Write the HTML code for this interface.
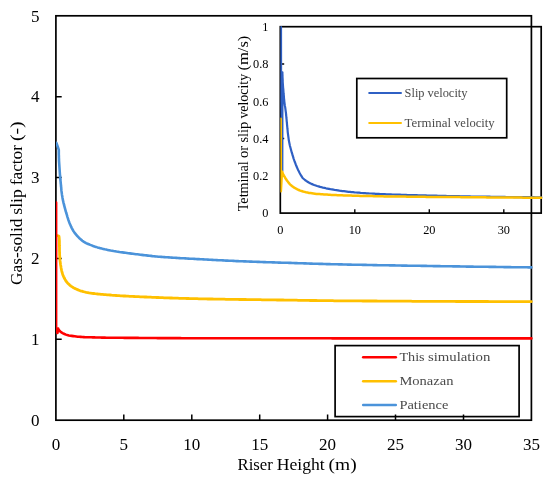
<!DOCTYPE html>
<html><head><meta charset="utf-8"><title>Gas-solid slip factor</title>
<style>
html,body{margin:0;padding:0;background:#fff;}
body{width:550px;height:480px;overflow:hidden;font-family:"Liberation Serif",serif;}
svg{display:block;font-family:"Liberation Serif",serif;}
</style></head><body>
<svg width="550" height="480" viewBox="0 0 550 480">
<rect width="550" height="480" fill="#fff"/>
<rect x="55.9" y="15.8" width="475.5" height="404.4" fill="none" stroke="#000" stroke-width="1.7"/>
<path d="M55.9,339.3h5.8 M55.9,258.4h5.8 M55.9,177.6h5.8 M55.9,96.7h5.8 M123.8,420.2v-5.8 M191.8,420.2v-5.8 M259.7,420.2v-5.8 M327.6,420.2v-5.8 M395.5,420.2v-5.8 M463.5,420.2v-5.8" stroke="#000" stroke-width="1.5" fill="none"/>
<defs><clipPath id="cm"><rect x="56.05" y="0" width="494" height="480"/></clipPath><clipPath id="ci"><rect x="280.4" y="0" width="269.6" height="480"/></clipPath></defs>
<g fill="none" stroke-linejoin="round" stroke-linecap="round" stroke-width="2.6" clip-path="url(#cm)">
<path d="M56.3,142.8 L57.5,146.0 L58.8,149.9 L58.8,151.4 L58.8,152.9 L58.8,154.4 L58.9,155.9 L58.9,157.5 L59.0,159.0 L59.0,160.5 L59.1,162.0 L59.2,163.5 L59.3,165.0 L59.4,166.5 L59.5,168.0 L59.6,169.5 L59.7,171.0 L59.8,172.5 L59.9,174.0 L60.0,175.5 L60.2,177.0 L60.3,178.5 L60.4,180.0 L60.6,181.5 L60.7,183.0 L60.9,184.5 L61.0,186.0 L61.2,187.5 L61.3,189.0 L61.4,190.4 L61.6,191.9 L61.8,193.4 L62.0,194.9 L62.3,196.4 L62.5,197.9 L62.8,199.4 L63.1,200.9 L63.4,202.3 L63.8,203.8 L64.1,205.2 L64.5,206.7 L64.9,208.2 L65.3,209.6 L65.7,211.1 L66.1,212.5 L66.6,214.0 L67.0,215.4 L67.4,216.8 L67.9,218.3 L68.3,219.7 L68.8,221.1 L69.3,222.5 L69.9,223.9 L70.5,225.3 L71.1,226.7 L71.8,228.1 L72.5,229.4 L73.2,230.7 L74.0,231.9 L74.9,233.2 L75.9,234.4 L76.8,235.5 L77.9,236.6 L78.9,237.7 L80.0,238.7 L81.2,239.7 L82.3,240.7 L83.6,241.6 L84.8,242.3 L86.1,243.1 L87.5,243.7 L88.9,244.3 L90.3,244.9 L91.7,245.4 L93.1,246.0 L94.5,246.5 L96.0,246.9 L97.4,247.4 L98.8,247.8 L100.3,248.2 L101.8,248.6 L103.2,248.9 L104.7,249.3 L106.2,249.6 L107.6,249.9 L109.1,250.2 L110.6,250.5 L112.1,250.7 L113.6,251.0 L115.0,251.2 L116.5,251.5 L118.0,251.7 L119.5,252.0 L121.0,252.2 L122.5,252.4 L124.0,252.6 L125.5,252.8 L126.9,253.0 L128.4,253.2 L129.9,253.4 L131.4,253.6 L132.9,253.8 L134.4,254.0 L135.9,254.2 L137.4,254.3 L138.9,254.5 L140.4,254.7 L141.9,254.9 L143.4,255.1 L144.9,255.3 L146.4,255.4 L147.9,255.6 L149.4,255.8 L150.9,255.9 L152.4,256.1 L153.9,256.2 L155.3,256.4 L156.8,256.5 L158.3,256.7 L159.8,256.8 L161.3,256.9 L162.8,257.0 L164.3,257.1 L165.8,257.2 L167.3,257.3 L168.8,257.4 L170.3,257.5 L171.8,257.6 L173.3,257.7 L174.9,257.8 L176.4,257.9 L177.9,258.0 L179.4,258.1 L180.9,258.2 L182.4,258.3 L183.9,258.3 L185.4,258.4 L186.9,258.5 L188.4,258.6 L189.9,258.7 L191.4,258.7 L192.9,258.8 L194.4,258.9 L195.9,259.0 L197.4,259.1 L198.9,259.1 L200.4,259.2 L201.9,259.3 L203.4,259.4 L204.9,259.5 L206.4,259.5 L207.9,259.6 L209.4,259.7 L210.9,259.8 L212.4,259.9 L213.9,260.0 L215.4,260.0 L216.9,260.1 L218.4,260.2 L219.9,260.3 L221.4,260.3 L223.0,260.4 L224.5,260.5 L226.0,260.6 L227.5,260.6 L229.0,260.7 L230.5,260.8 L232.0,260.8 L233.5,260.9 L235.0,261.0 L236.5,261.1 L238.0,261.1 L239.5,261.2 L241.0,261.2 L242.5,261.3 L244.0,261.4 L245.5,261.4 L247.0,261.5 L248.5,261.5 L250.0,261.6 L251.5,261.6 L253.0,261.7 L254.5,261.8 L256.0,261.8 L257.5,261.9 L259.0,261.9 L260.5,262.0 L262.1,262.0 L263.6,262.1 L265.1,262.1 L266.6,262.2 L268.1,262.2 L269.6,262.3 L271.1,262.3 L272.6,262.4 L274.1,262.4 L275.6,262.5 L277.1,262.5 L278.6,262.6 L280.1,262.6 L281.6,262.7 L283.1,262.7 L284.6,262.8 L286.1,262.8 L287.6,262.8 L289.1,262.9 L290.6,262.9 L292.1,263.0 L293.6,263.0 L295.1,263.1 L296.6,263.1 L298.2,263.2 L299.7,263.2 L301.2,263.3 L302.7,263.3 L304.2,263.4 L305.7,263.4 L307.2,263.5 L308.7,263.5 L310.2,263.6 L311.7,263.6 L313.2,263.7 L314.7,263.7 L316.2,263.8 L317.7,263.8 L319.2,263.9 L320.7,263.9 L322.2,263.9 L323.7,264.0 L325.2,264.0 L326.7,264.1 L328.2,264.1 L329.7,264.1 L331.3,264.2 L332.8,264.2 L334.3,264.3 L335.8,264.3 L337.3,264.3 L338.8,264.4 L340.3,264.4 L341.8,264.4 L343.3,264.5 L344.8,264.5 L346.3,264.5 L347.8,264.6 L349.3,264.6 L350.8,264.6 L352.3,264.7 L353.8,264.7 L355.3,264.7 L356.8,264.8 L358.3,264.8 L359.8,264.8 L361.3,264.8 L362.8,264.9 L364.4,264.9 L365.9,264.9 L367.4,265.0 L368.9,265.0 L370.4,265.0 L371.9,265.0 L373.4,265.1 L374.9,265.1 L376.4,265.1 L377.9,265.2 L379.4,265.2 L380.9,265.2 L382.4,265.2 L383.9,265.3 L385.4,265.3 L386.9,265.3 L388.4,265.3 L389.9,265.4 L391.4,265.4 L392.9,265.4 L394.5,265.4 L396.0,265.5 L397.5,265.5 L399.0,265.5 L400.5,265.5 L402.0,265.6 L403.5,265.6 L405.0,265.6 L406.5,265.6 L408.0,265.7 L409.5,265.7 L411.0,265.7 L412.5,265.7 L414.0,265.8 L415.5,265.8 L417.0,265.8 L418.5,265.8 L420.0,265.8 L421.5,265.9 L423.0,265.9 L424.5,265.9 L426.1,265.9 L427.6,266.0 L429.1,266.0 L430.6,266.0 L432.1,266.0 L433.6,266.1 L435.1,266.1 L436.6,266.1 L438.1,266.1 L439.6,266.1 L441.1,266.2 L442.6,266.2 L444.1,266.2 L445.6,266.2 L447.1,266.3 L448.6,266.3 L450.1,266.3 L451.6,266.3 L453.1,266.4 L454.6,266.4 L456.2,266.4 L457.7,266.4 L459.2,266.4 L460.7,266.5 L462.2,266.5 L463.7,266.5 L465.2,266.5 L466.7,266.6 L468.2,266.6 L469.7,266.6 L471.2,266.6 L472.7,266.6 L474.2,266.7 L475.7,266.7 L477.2,266.7 L478.7,266.7 L480.2,266.7 L481.7,266.8 L483.2,266.8 L484.7,266.8 L486.3,266.8 L487.8,266.8 L489.3,266.9 L490.8,266.9 L492.3,266.9 L493.8,266.9 L495.3,266.9 L496.8,267.0 L498.3,267.0 L499.8,267.0 L501.3,267.0 L502.8,267.0 L504.3,267.1 L505.8,267.1 L507.3,267.1 L508.8,267.1 L510.3,267.1 L511.8,267.2 L513.3,267.2 L514.8,267.2 L516.4,267.2 L517.9,267.2 L519.4,267.3 L520.9,267.3 L522.4,267.3 L523.9,267.3 L525.4,267.3 L526.9,267.3 L528.4,267.4 L529.9,267.4 L531.4,267.4" stroke="#4b93da"/>
<path d="M57.8,235.6 L59.0,236.3 L59.1,237.2 L59.2,238.4 L59.3,239.7 L59.4,241.1 L59.4,242.6 L59.4,244.2 L59.4,245.9 L59.5,247.6 L59.5,249.3 L59.5,251.0 L59.6,252.7 L59.6,254.4 L59.7,255.9 L59.8,257.4 L59.9,258.9 L60.0,260.4 L60.2,261.9 L60.4,263.4 L60.6,264.9 L60.9,266.4 L61.1,267.9 L61.4,269.4 L61.7,270.8 L62.1,272.3 L62.5,273.7 L63.0,275.2 L63.6,276.6 L64.3,278.0 L65.0,279.4 L65.7,280.6 L66.5,281.8 L67.5,282.9 L68.6,284.0 L69.7,285.1 L71.0,286.1 L72.2,286.9 L73.5,287.7 L74.7,288.4 L76.1,289.0 L77.5,289.6 L78.9,290.2 L80.3,290.8 L81.8,291.2 L83.3,291.7 L84.7,292.0 L86.2,292.4 L87.6,292.6 L89.1,292.9 L90.6,293.1 L92.1,293.3 L93.6,293.5 L95.1,293.7 L96.6,293.8 L98.1,294.0 L99.6,294.1 L101.1,294.3 L102.6,294.4 L104.1,294.6 L105.6,294.7 L107.1,294.8 L108.6,294.9 L110.1,295.0 L111.6,295.2 L113.1,295.3 L114.6,295.4 L116.1,295.5 L117.6,295.6 L119.1,295.7 L120.6,295.8 L122.1,295.9 L123.6,296.0 L125.1,296.0 L126.6,296.1 L128.1,296.2 L129.6,296.3 L131.1,296.4 L132.6,296.4 L134.1,296.5 L135.6,296.6 L137.2,296.6 L138.7,296.7 L140.2,296.8 L141.7,296.8 L143.2,296.9 L144.7,297.0 L146.2,297.0 L147.7,297.1 L149.2,297.2 L150.7,297.2 L152.2,297.3 L153.7,297.4 L155.2,297.4 L156.7,297.5 L158.2,297.5 L159.7,297.6 L161.2,297.6 L162.7,297.7 L164.2,297.8 L165.7,297.8 L167.2,297.9 L168.7,297.9 L170.2,298.0 L171.7,298.0 L173.2,298.1 L174.7,298.1 L176.3,298.2 L177.8,298.2 L179.3,298.3 L180.8,298.3 L182.3,298.4 L183.8,298.4 L185.3,298.4 L186.8,298.5 L188.3,298.5 L189.8,298.6 L191.3,298.6 L192.8,298.6 L194.3,298.7 L195.8,298.7 L197.3,298.7 L198.8,298.8 L200.3,298.8 L201.8,298.8 L203.3,298.9 L204.8,298.9 L206.3,298.9 L207.8,299.0 L209.4,299.0 L210.9,299.0 L212.4,299.0 L213.9,299.1 L215.4,299.1 L216.9,299.1 L218.4,299.1 L219.9,299.2 L221.4,299.2 L222.9,299.2 L224.4,299.2 L225.9,299.3 L227.4,299.3 L228.9,299.3 L230.4,299.3 L231.9,299.4 L233.4,299.4 L234.9,299.4 L236.4,299.4 L237.9,299.4 L239.4,299.5 L241.0,299.5 L242.5,299.5 L244.0,299.5 L245.5,299.5 L247.0,299.6 L248.5,299.6 L250.0,299.6 L251.5,299.6 L253.0,299.6 L254.5,299.7 L256.0,299.7 L257.5,299.7 L259.0,299.7 L260.5,299.7 L262.0,299.8 L263.5,299.8 L265.0,299.8 L266.5,299.8 L268.0,299.8 L269.5,299.9 L271.1,299.9 L272.6,299.9 L274.1,299.9 L275.6,299.9 L277.1,300.0 L278.6,300.0 L280.1,300.0 L281.6,300.0 L283.1,300.0 L284.6,300.1 L286.1,300.1 L287.6,300.1 L289.1,300.1 L290.6,300.2 L292.1,300.2 L293.6,300.2 L295.1,300.2 L296.6,300.2 L298.1,300.3 L299.6,300.3 L301.1,300.3 L302.7,300.3 L304.2,300.4 L305.7,300.4 L307.2,300.4 L308.7,300.4 L310.2,300.5 L311.7,300.5 L313.2,300.5 L314.7,300.5 L316.2,300.5 L317.7,300.6 L319.2,300.6 L320.7,300.6 L322.2,300.6 L323.7,300.6 L325.2,300.7 L326.7,300.7 L328.2,300.7 L329.7,300.7 L331.2,300.7 L332.7,300.7 L334.3,300.8 L335.8,300.8 L337.3,300.8 L338.8,300.8 L340.3,300.8 L341.8,300.8 L343.3,300.8 L344.8,300.8 L346.3,300.8 L347.8,300.9 L349.3,300.9 L350.8,300.9 L352.3,300.9 L353.8,300.9 L355.3,300.9 L356.8,300.9 L358.3,300.9 L359.8,300.9 L361.3,300.9 L362.8,301.0 L364.4,301.0 L365.9,301.0 L367.4,301.0 L368.9,301.0 L370.4,301.0 L371.9,301.0 L373.4,301.0 L374.9,301.0 L376.4,301.0 L377.9,301.1 L379.4,301.1 L380.9,301.1 L382.4,301.1 L383.9,301.1 L385.4,301.1 L386.9,301.1 L388.4,301.1 L389.9,301.1 L391.4,301.1 L392.9,301.1 L394.4,301.2 L396.0,301.2 L397.5,301.2 L399.0,301.2 L400.5,301.2 L402.0,301.2 L403.5,301.2 L405.0,301.2 L406.5,301.2 L408.0,301.2 L409.5,301.2 L411.0,301.2 L412.5,301.3 L414.0,301.3 L415.5,301.3 L417.0,301.3 L418.5,301.3 L420.0,301.3 L421.5,301.3 L423.0,301.3 L424.5,301.3 L426.1,301.3 L427.6,301.3 L429.1,301.3 L430.6,301.3 L432.1,301.4 L433.6,301.4 L435.1,301.4 L436.6,301.4 L438.1,301.4 L439.6,301.4 L441.1,301.4 L442.6,301.4 L444.1,301.4 L445.6,301.4 L447.1,301.4 L448.6,301.4 L450.1,301.4 L451.6,301.4 L453.1,301.4 L454.6,301.4 L456.2,301.5 L457.7,301.5 L459.2,301.5 L460.7,301.5 L462.2,301.5 L463.7,301.5 L465.2,301.5 L466.7,301.5 L468.2,301.5 L469.7,301.5 L471.2,301.5 L472.7,301.5 L474.2,301.5 L475.7,301.5 L477.2,301.5 L478.7,301.5 L480.2,301.5 L481.7,301.5 L483.2,301.5 L484.7,301.5 L486.2,301.5 L487.8,301.5 L489.3,301.6 L490.8,301.6 L492.3,301.6 L493.8,301.6 L495.3,301.6 L496.8,301.6 L498.3,301.6 L499.8,301.6 L501.3,301.6 L502.8,301.6 L504.3,301.6 L505.8,301.6 L507.3,301.6 L508.8,301.6 L510.3,301.6 L511.8,301.6 L513.3,301.6 L514.8,301.6 L516.3,301.6 L517.9,301.6 L519.4,301.6 L520.9,301.6 L522.4,301.6 L523.9,301.6 L525.4,301.6 L526.9,301.6 L528.4,301.6 L529.9,301.6 L531.4,301.6" stroke="#ffc000" stroke-width="2.8"/>
<path d="M56.1,202.6 L56.1,327 L57.4,333 L58.2,328.5 L58.5,329.5 L59.5,330.7 L60.6,331.7 L61.8,332.6 L63.1,333.3 L64.5,334.0 L65.9,334.6 L67.3,335.1 L68.8,335.5 L70.2,335.7 L71.7,335.9 L73.2,336.1 L74.7,336.3 L76.2,336.5 L77.7,336.7 L79.2,336.8 L80.7,336.9 L82.2,337.0 L83.8,337.1 L85.3,337.2 L86.8,337.2 L88.3,337.3 L89.8,337.3 L91.3,337.3 L92.8,337.4 L94.3,337.4 L95.8,337.5 L97.3,337.5 L98.8,337.5 L100.3,337.5 L101.8,337.6 L103.3,337.6 L104.8,337.6 L106.4,337.7 L107.9,337.7 L109.4,337.7 L110.9,337.7 L112.4,337.7 L113.9,337.8 L115.4,337.8 L116.9,337.8 L118.4,337.8 L119.9,337.8 L121.4,337.8 L122.9,337.8 L124.5,337.9 L126.0,337.9 L127.5,337.9 L129.0,337.9 L130.5,337.9 L132.0,337.9 L133.5,337.9 L135.0,337.9 L136.5,337.9 L138.0,337.9 L139.5,338.0 L141.0,338.0 L142.5,338.0 L144.0,338.0 L145.6,338.0 L147.1,338.0 L148.6,338.0 L150.1,338.0 L151.6,338.0 L153.1,338.0 L154.6,338.0 L156.1,338.0 L157.6,338.1 L159.1,338.1 L160.6,338.1 L162.1,338.1 L163.6,338.1 L165.1,338.1 L166.7,338.1 L168.2,338.1 L169.7,338.1 L171.2,338.1 L172.7,338.1 L174.2,338.1 L175.7,338.1 L177.2,338.1 L178.7,338.1 L180.2,338.1 L181.7,338.2 L183.2,338.2 L184.7,338.2 L186.3,338.2 L187.8,338.2 L189.3,338.2 L190.8,338.2 L192.3,338.2 L193.8,338.2 L195.3,338.2 L196.8,338.2 L198.3,338.2 L199.8,338.2 L201.3,338.2 L202.8,338.2 L204.3,338.2 L205.8,338.2 L207.4,338.2 L208.9,338.2 L210.4,338.2 L211.9,338.2 L213.4,338.2 L214.9,338.2 L216.4,338.3 L217.9,338.3 L219.4,338.3 L220.9,338.3 L222.4,338.3 L223.9,338.3 L225.4,338.3 L226.9,338.3 L228.5,338.3 L230.0,338.3 L231.5,338.3 L233.0,338.3 L234.5,338.3 L236.0,338.3 L237.5,338.3 L239.0,338.3 L240.5,338.3 L242.0,338.3 L243.5,338.3 L245.0,338.3 L246.5,338.3 L248.0,338.3 L249.6,338.3 L251.1,338.3 L252.6,338.3 L254.1,338.3 L255.6,338.3 L257.1,338.3 L258.6,338.3 L260.1,338.3 L261.6,338.3 L263.1,338.3 L264.6,338.3 L266.1,338.3 L267.6,338.3 L269.1,338.3 L270.7,338.3 L272.2,338.3 L273.7,338.3 L275.2,338.3 L276.7,338.3 L278.2,338.3 L279.7,338.3 L281.2,338.3 L282.7,338.3 L284.2,338.3 L285.7,338.3 L287.2,338.3 L288.7,338.3 L290.2,338.3 L291.8,338.3 L293.3,338.3 L294.8,338.3 L296.3,338.3 L297.8,338.3 L299.3,338.3 L300.8,338.3 L302.3,338.3 L303.8,338.3 L305.3,338.3 L306.8,338.3 L308.3,338.3 L309.8,338.3 L311.3,338.3 L312.9,338.3 L314.4,338.3 L315.9,338.3 L317.4,338.3 L318.9,338.3 L320.4,338.3 L321.9,338.3 L323.4,338.3 L324.9,338.3 L326.4,338.3 L327.9,338.3 L329.4,338.3 L330.9,338.3 L332.4,338.4 L334.0,338.4 L335.5,338.4 L337.0,338.4 L338.5,338.4 L340.0,338.4 L341.5,338.4 L343.0,338.4 L344.5,338.4 L346.0,338.4 L347.5,338.4 L349.0,338.4 L350.5,338.4 L352.0,338.4 L353.6,338.4 L355.1,338.4 L356.6,338.4 L358.1,338.4 L359.6,338.4 L361.1,338.4 L362.6,338.4 L364.1,338.4 L365.6,338.4 L367.1,338.4 L368.6,338.4 L370.1,338.4 L371.6,338.4 L373.1,338.4 L374.7,338.4 L376.2,338.4 L377.7,338.4 L379.2,338.4 L380.7,338.4 L382.2,338.4 L383.7,338.4 L385.2,338.4 L386.7,338.4 L388.2,338.4 L389.7,338.4 L391.2,338.4 L392.7,338.4 L394.2,338.4 L395.8,338.4 L397.3,338.4 L398.8,338.4 L400.3,338.4 L401.8,338.4 L403.3,338.4 L404.8,338.4 L406.3,338.4 L407.8,338.4 L409.3,338.4 L410.8,338.4 L412.3,338.4 L413.8,338.4 L415.3,338.4 L416.9,338.4 L418.4,338.4 L419.9,338.4 L421.4,338.4 L422.9,338.4 L424.4,338.4 L425.9,338.4 L427.4,338.4 L428.9,338.4 L430.4,338.4 L431.9,338.4 L433.4,338.4 L434.9,338.4 L436.4,338.4 L438.0,338.4 L439.5,338.4 L441.0,338.4 L442.5,338.4 L444.0,338.4 L445.5,338.4 L447.0,338.4 L448.5,338.4 L450.0,338.4 L451.5,338.4 L453.0,338.4 L454.5,338.4 L456.0,338.4 L457.5,338.4 L459.1,338.4 L460.6,338.4 L462.1,338.4 L463.6,338.4 L465.1,338.4 L466.6,338.4 L468.1,338.4 L469.6,338.4 L471.1,338.4 L472.6,338.4 L474.1,338.4 L475.6,338.4 L477.1,338.4 L478.6,338.4 L480.2,338.4 L481.7,338.4 L483.2,338.4 L484.7,338.4 L486.2,338.4 L487.7,338.4 L489.2,338.4 L490.7,338.4 L492.2,338.4 L493.7,338.4 L495.2,338.4 L496.7,338.4 L498.2,338.4 L499.7,338.4 L501.3,338.4 L502.8,338.4 L504.3,338.4 L505.8,338.4 L507.3,338.4 L508.8,338.4 L510.3,338.4 L511.8,338.4 L513.3,338.4 L514.8,338.4 L516.3,338.4 L517.8,338.4 L519.3,338.4 L520.8,338.4 L522.4,338.4 L523.9,338.4 L525.4,338.4 L526.9,338.4 L528.4,338.4 L529.9,338.4 L531.4,338.4" stroke="#ff0000"/>
</g>
<rect x="335.1" y="345.6" width="184" height="71" fill="none" stroke="#000" stroke-width="1.7"/>
<g stroke-width="2.5" stroke-linecap="round">
<path d="M363.2,357.3H395.8" stroke="#ff0000"/><path d="M363.2,381.2H395.8" stroke="#ffc000"/><path d="M363.2,405.1H395.8" stroke="#4b93da"/></g>
<g font-size="13.4" fill="#4a4a4a">
<text y="360.9"><tspan x="399.4" textLength="25.2" lengthAdjust="spacingAndGlyphs">This</tspan> <tspan x="427.9" textLength="62.5" lengthAdjust="spacingAndGlyphs">simulation</tspan></text>
<text x="399.4" y="384.8" textLength="54" lengthAdjust="spacingAndGlyphs">Monazan</text>
<text x="399.4" y="408.7" textLength="49" lengthAdjust="spacingAndGlyphs">Patience</text>
</g>
<g font-size="17" fill="#000">
<text x="39.4" y="425.9" text-anchor="end">0</text>
<text x="39.4" y="345.0" text-anchor="end">1</text>
<text x="39.4" y="264.1" text-anchor="end">2</text>
<text x="39.4" y="183.3" text-anchor="end">3</text>
<text x="39.4" y="102.4" text-anchor="end">4</text>
<text x="39.4" y="21.5" text-anchor="end">5</text>
<text x="55.9" y="449.7" text-anchor="middle">0</text>
<text x="123.8" y="449.7" text-anchor="middle">5</text>
<text x="191.8" y="449.7" text-anchor="middle">10</text>
<text x="259.7" y="449.7" text-anchor="middle">15</text>
<text x="327.6" y="449.7" text-anchor="middle">20</text>
<text x="395.5" y="449.7" text-anchor="middle">25</text>
<text x="463.5" y="449.7" text-anchor="middle">30</text>
<text x="531.4" y="449.7" text-anchor="middle">35</text>
</g>
<text y="470.1" font-size="17"><tspan x="237.5" textLength="35.3" lengthAdjust="spacingAndGlyphs">Riser</tspan> <tspan x="276.7" textLength="48.0" lengthAdjust="spacingAndGlyphs">Height</tspan> <tspan x="328.6" textLength="28.1" lengthAdjust="spacingAndGlyphs">(m)</tspan></text>
<text transform="translate(22,285.1) rotate(-90)" font-size="17"><tspan x="0.0" textLength="66.5" lengthAdjust="spacingAndGlyphs">Gas-solid</tspan> <tspan x="70.4" textLength="25.5" lengthAdjust="spacingAndGlyphs">slip</tspan> <tspan x="99.9" textLength="40.1" lengthAdjust="spacingAndGlyphs">factor</tspan> <tspan x="144.0" textLength="19.8" lengthAdjust="spacingAndGlyphs">(-)</tspan></text>
<rect x="280.3" y="26.7" width="260.9" height="186.4" fill="none" stroke="#000" stroke-width="1.7"/>
<path d="M280.3,175.8h3.9 M280.3,138.5h3.9 M280.3,101.3h3.9 M280.3,64.0h3.9 M354.8,213.1v-3.9 M429.3,213.1v-3.9 M503.8,213.1v-3.9" stroke="#000" stroke-width="1.4" fill="none"/>
<g fill="none" stroke-linejoin="round" stroke-linecap="round" stroke-width="2.2" clip-path="url(#ci)">
<path d="M281.0,27.2 L281.1,100 L282.3,171 L282.4,72.3 L282.4,72.3 L282.4,73.8 L282.5,75.4 L282.5,76.9 L282.6,78.4 L282.7,80.0 L282.7,81.5 L282.8,83.0 L282.9,84.5 L283.0,86.1 L283.1,87.6 L283.3,89.1 L283.4,90.7 L283.5,92.2 L283.6,93.7 L283.8,95.2 L283.9,96.7 L284.0,98.3 L284.2,99.8 L284.3,101.3 L284.5,102.8 L284.7,104.3 L284.9,105.9 L285.2,107.4 L285.4,108.9 L285.6,110.4 L285.8,111.9 L286.0,113.4 L286.1,115.0 L286.3,116.5 L286.4,118.0 L286.6,119.5 L286.7,121.1 L286.9,122.6 L287.0,124.1 L287.1,125.7 L287.3,127.2 L287.4,128.7 L287.6,130.2 L287.7,131.8 L287.9,133.3 L288.1,134.8 L288.3,136.3 L288.5,137.8 L288.7,139.3 L288.9,140.8 L289.2,142.3 L289.5,143.8 L289.8,145.3 L290.2,146.8 L290.6,148.3 L291.0,149.8 L291.4,151.3 L291.8,152.7 L292.3,154.2 L292.7,155.7 L293.2,157.1 L293.6,158.6 L294.1,160.0 L294.6,161.5 L295.2,162.9 L295.7,164.4 L296.3,165.8 L296.9,167.2 L297.5,168.6 L298.1,170.0 L298.8,171.3 L299.5,172.7 L300.2,174.0 L301.0,175.4 L301.8,176.7 L302.6,178.0 L303.8,179.0 L305.0,180.0 L306.2,180.9 L307.5,181.7 L308.8,182.5 L310.1,183.2 L311.4,183.9 L312.8,184.4 L314.2,185.0 L315.7,185.5 L317.1,186.0 L318.6,186.4 L320.1,186.9 L321.5,187.2 L323.0,187.6 L324.5,187.9 L326.0,188.3 L327.4,188.6 L328.9,188.9 L330.4,189.2 L331.9,189.4 L333.4,189.7 L334.9,190.0 L336.4,190.2 L337.9,190.4 L339.4,190.7 L341.0,190.9 L342.5,191.1 L344.0,191.2 L345.5,191.4 L347.0,191.6 L348.5,191.8 L350.0,191.9 L351.5,192.1 L353.0,192.2 L354.5,192.4 L356.0,192.5 L357.6,192.6 L359.1,192.7 L360.6,192.9 L362.1,193.0 L363.6,193.1 L365.1,193.2 L366.6,193.3 L368.2,193.4 L369.7,193.5 L371.2,193.5 L372.7,193.6 L374.2,193.7 L375.7,193.8 L377.3,193.9 L378.8,193.9 L380.3,194.0 L381.8,194.1 L383.3,194.1 L384.8,194.2 L386.4,194.3 L387.9,194.3 L389.4,194.4 L390.9,194.4 L392.4,194.5 L393.9,194.5 L395.5,194.6 L397.0,194.6 L398.5,194.7 L400.0,194.7 L401.5,194.8 L403.1,194.8 L404.6,194.9 L406.1,194.9 L407.6,195.0 L409.1,195.0 L410.6,195.1 L412.2,195.1 L413.7,195.1 L415.2,195.2 L416.7,195.2 L418.2,195.3 L419.7,195.3 L421.3,195.3 L422.8,195.4 L424.3,195.4 L425.8,195.4 L427.3,195.5 L428.9,195.5 L430.4,195.6 L431.9,195.6 L433.4,195.6 L434.9,195.7 L436.4,195.7 L438.0,195.8 L439.5,195.8 L441.0,195.8 L442.5,195.9 L444.0,195.9 L445.6,195.9 L447.1,196.0 L448.6,196.0 L450.1,196.0 L451.6,196.1 L453.1,196.1 L454.7,196.1 L456.2,196.2 L457.7,196.2 L459.2,196.2 L460.7,196.3 L462.3,196.3 L463.8,196.3 L465.3,196.3 L466.8,196.4 L468.3,196.4 L469.8,196.4 L471.4,196.5 L472.9,196.5 L474.4,196.5 L475.9,196.5 L477.4,196.6 L479.0,196.6 L480.5,196.6 L482.0,196.6 L483.5,196.7 L485.0,196.7 L486.5,196.7 L488.1,196.7 L489.6,196.7 L491.1,196.8 L492.6,196.8 L494.1,196.8 L495.7,196.8 L497.2,196.8 L498.7,196.9 L500.2,196.9 L501.7,196.9 L503.2,196.9 L504.8,196.9 L506.3,197.0 L507.8,197.0 L509.3,197.0 L510.8,197.0 L512.4,197.0 L513.9,197.1 L515.4,197.1 L516.9,197.1 L518.4,197.1 L519.9,197.1 L521.5,197.1 L523.0,197.2 L524.5,197.2 L526.0,197.2 L527.5,197.2 L529.1,197.2 L530.6,197.2 L532.1,197.2 L533.6,197.2 L535.1,197.3 L536.6,197.3 L538.2,197.3 L539.7,197.3 L541.2,197.3" stroke="#2f60c4"/>
<path d="M280.7,118.8 L280.9,191.3 L282.0,171.5 L282.0,171.5 L282.6,172.9 L283.2,174.3 L283.9,175.6 L284.7,176.9 L285.4,178.2 L286.3,179.5 L287.1,180.8 L288.1,182.0 L289.0,183.2 L290.0,184.3 L291.1,185.3 L292.2,186.2 L293.4,187.1 L294.7,187.9 L296.1,188.7 L297.4,189.4 L298.8,190.0 L300.2,190.6 L301.6,191.0 L303.1,191.5 L304.5,191.9 L306.0,192.3 L307.5,192.6 L309.0,192.9 L310.5,193.1 L312.0,193.3 L313.4,193.5 L314.9,193.7 L316.5,193.9 L318.0,194.0 L319.5,194.1 L321.0,194.2 L322.5,194.3 L324.0,194.4 L325.5,194.5 L327.0,194.6 L328.5,194.7 L330.0,194.8 L331.5,194.9 L333.0,195.0 L334.5,195.0 L336.0,195.1 L337.5,195.2 L339.0,195.2 L340.6,195.3 L342.1,195.3 L343.6,195.4 L345.1,195.5 L346.6,195.5 L348.1,195.6 L349.6,195.6 L351.1,195.6 L352.6,195.7 L354.1,195.7 L355.6,195.8 L357.1,195.8 L358.7,195.8 L360.2,195.9 L361.7,195.9 L363.2,195.9 L364.7,196.0 L366.2,196.0 L367.7,196.0 L369.2,196.1 L370.7,196.1 L372.2,196.1 L373.7,196.2 L375.2,196.2 L376.8,196.2 L378.3,196.3 L379.8,196.3 L381.3,196.3 L382.8,196.3 L384.3,196.4 L385.8,196.4 L387.3,196.4 L388.8,196.4 L390.3,196.4 L391.8,196.5 L393.3,196.5 L394.9,196.5 L396.4,196.5 L397.9,196.5 L399.4,196.6 L400.9,196.6 L402.4,196.6 L403.9,196.6 L405.4,196.6 L406.9,196.7 L408.4,196.7 L409.9,196.7 L411.5,196.7 L413.0,196.7 L414.5,196.7 L416.0,196.8 L417.5,196.8 L419.0,196.8 L420.5,196.8 L422.0,196.8 L423.5,196.8 L425.0,196.8 L426.5,196.9 L428.0,196.9 L429.6,196.9 L431.1,196.9 L432.6,196.9 L434.1,196.9 L435.6,196.9 L437.1,197.0 L438.6,197.0 L440.1,197.0 L441.6,197.0 L443.1,197.0 L444.6,197.0 L446.2,197.0 L447.7,197.0 L449.2,197.1 L450.7,197.1 L452.2,197.1 L453.7,197.1 L455.2,197.1 L456.7,197.1 L458.2,197.1 L459.7,197.1 L461.2,197.2 L462.7,197.2 L464.3,197.2 L465.8,197.2 L467.3,197.2 L468.8,197.2 L470.3,197.2 L471.8,197.2 L473.3,197.2 L474.8,197.3 L476.3,197.3 L477.8,197.3 L479.3,197.3 L480.9,197.3 L482.4,197.3 L483.9,197.3 L485.4,197.3 L486.9,197.4 L488.4,197.4 L489.9,197.4 L491.4,197.4 L492.9,197.4 L494.4,197.4 L495.9,197.4 L497.4,197.4 L499.0,197.5 L500.5,197.5 L502.0,197.5 L503.5,197.5 L505.0,197.5 L506.5,197.5 L508.0,197.5 L509.5,197.5 L511.0,197.6 L512.5,197.6 L514.0,197.6 L515.6,197.6 L517.1,197.6 L518.6,197.6 L520.1,197.6 L521.6,197.6 L523.1,197.7 L524.6,197.7 L526.1,197.7 L527.6,197.7 L529.1,197.7 L530.6,197.7 L532.1,197.7 L533.7,197.7 L535.2,197.8 L536.7,197.8 L538.2,197.8 L539.7,197.8 L541.2,197.8" stroke="#ffc000" stroke-width="2.5"/>
</g>
<rect x="356.8" y="78.5" width="149.9" height="59.3" fill="#fff" stroke="#000" stroke-width="1.7"/>
<g stroke-width="2" stroke-linecap="round"><path d="M369.2,93H401" stroke="#2f60c4"/><path d="M369.2,123H401" stroke="#ffc000"/></g>
<g font-size="13" fill="#4a4a4a">
<text y="97.2"><tspan x="404.6" textLength="19.9" lengthAdjust="spacingAndGlyphs">Slip</tspan> <tspan x="427.4" textLength="40.2" lengthAdjust="spacingAndGlyphs">velocity</tspan></text>
<text y="127.2"><tspan x="404.6" textLength="46.4" lengthAdjust="spacingAndGlyphs">Terminal</tspan> <tspan x="454.0" textLength="40.6" lengthAdjust="spacingAndGlyphs">velocity</tspan></text>
</g>
<g font-size="12.3" fill="#000">
<text x="268.4" y="217.3" text-anchor="end">0</text>
<text x="268.4" y="180.0" text-anchor="end">0.2</text>
<text x="268.4" y="142.7" text-anchor="end">0.4</text>
<text x="268.4" y="105.5" text-anchor="end">0.6</text>
<text x="268.4" y="68.2" text-anchor="end">0.8</text>
<text x="268.4" y="30.9" text-anchor="end">1</text>
<text x="280.3" y="234.0" text-anchor="middle">0</text>
<text x="354.8" y="234.0" text-anchor="middle">10</text>
<text x="429.3" y="234.0" text-anchor="middle">20</text>
<text x="503.8" y="234.0" text-anchor="middle">30</text>
</g>
<text transform="translate(248.1,211.3) rotate(-90)" font-size="13.6"><tspan x="0.0" textLength="50.1" lengthAdjust="spacingAndGlyphs">Tetminal</tspan> <tspan x="53.3" textLength="12.2" lengthAdjust="spacingAndGlyphs">or</tspan> <tspan x="68.7" textLength="20.8" lengthAdjust="spacingAndGlyphs">slip</tspan> <tspan x="92.7" textLength="44.7" lengthAdjust="spacingAndGlyphs">velocity</tspan> <tspan x="140.7" textLength="35.0" lengthAdjust="spacingAndGlyphs">(m/s)</tspan></text>
</svg></body></html>
